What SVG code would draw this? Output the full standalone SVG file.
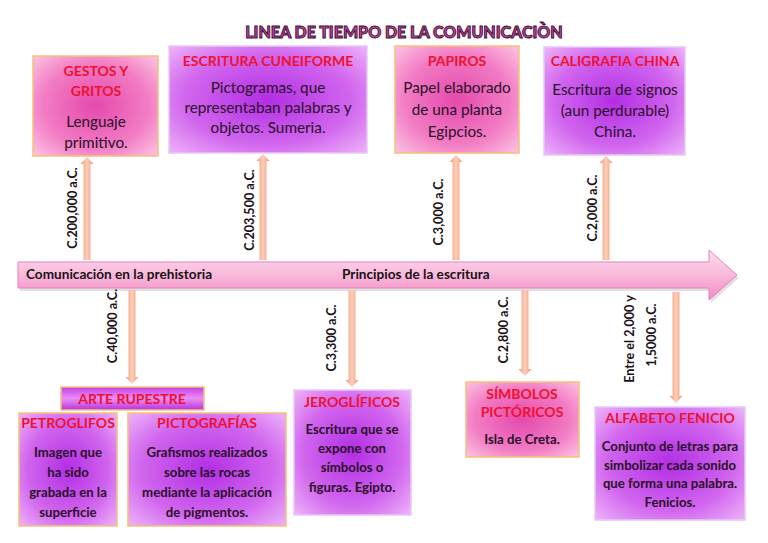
<svg xmlns="http://www.w3.org/2000/svg" width="768" height="543" viewBox="0 0 768 543">
<defs>
<radialGradient id="pink" cx="0.5" cy="0.5" r="0.7">
<stop offset="0" stop-color="#e44aac"/>
<stop offset="0.6" stop-color="#f27cc4"/>
<stop offset="1" stop-color="#fcc4e2"/>
</radialGradient>
<radialGradient id="purple" cx="0.5" cy="0.5" r="0.7">
<stop offset="0" stop-color="#b22ee4"/>
<stop offset="0.6" stop-color="#d166ee"/>
<stop offset="1" stop-color="#eeb2fa"/>
</radialGradient>
<linearGradient id="band" x1="0" y1="0" x2="0" y2="1">
<stop offset="0" stop-color="#c83ee4"/>
<stop offset="0.5" stop-color="#ea8ef6"/>
<stop offset="1" stop-color="#b832dc"/>
</linearGradient>
<linearGradient id="bar" x1="0" y1="0" x2="0" y2="1">
<stop offset="0" stop-color="#fde0ee"/>
<stop offset="0.5" stop-color="#f9b8da"/>
<stop offset="1" stop-color="#f08cc4"/>
</linearGradient>
<linearGradient id="arw" x1="0" y1="0" x2="1" y2="0">
<stop offset="0" stop-color="#f2926c"/>
<stop offset="0.5" stop-color="#fdd0bc"/>
<stop offset="1" stop-color="#f2926c"/>
</linearGradient>
</defs>
<style>
.pk{fill:url(#pink);stroke:#f6c078;stroke-width:1.5}
.pu{fill:url(#purple);stroke:#e6c8f6;stroke-width:1.5}
.puo{fill:url(#purple);stroke:#f6c078;stroke-width:1.5}
.h{font-family:Lato,"Open Sans",sans-serif;font-weight:bold;font-size:14px;fill:#f0102e;text-anchor:middle}
.b{font-family:Lato,"Open Sans",sans-serif;font-size:15.3px;fill:#2a1028;text-anchor:middle}
.bb{font-family:Lato,"Open Sans",sans-serif;font-weight:bold;font-size:13.2px;fill:#2a1028;text-anchor:middle}
.d{font-family:Lato,"Open Sans",sans-serif;font-weight:bold;font-size:12.6px;fill:#1a1018;text-anchor:middle}
.a{fill:url(#arw)}
.t{font-family:Lato,"Open Sans",sans-serif;font-weight:bold;font-size:13.6px;fill:#1a1018}
</style>
<rect width="768" height="543" fill="#ffffff"/>
<text x="404" y="38" font-family="Lato,'Open Sans',sans-serif" font-weight="900" font-size="16" fill="#c2449c" stroke="#3a0a30" stroke-width="0.9" text-anchor="middle">LINEA DE TIEMPO DE LA COMUNICACIÒN</text>

<g id="timeline">
<path d="M18,262 H709 V250 L737,275 L709,300 V288 H18 Z" fill="#000" opacity="0.12" transform="translate(2,3)"/>
<path d="M18,262 H709 V250 L737,275 L709,300 V288 H18 Z" fill="url(#bar)" stroke="#ea7cbc" stroke-width="1"/>
<text class="t" x="26" y="279">Comunicación en la prehistoria</text>
<text class="t" x="342" y="279">Principios de la escritura</text>
</g>

<g id="connectors">
<path class="a" d="M83.5,260 V164 H80.5 L87,157 L93.5,164 H90.5 V260 Z"/>
<path class="a" d="M259.5,260 V161 H256.5 L263,154 L269.5,161 H266.5 V260 Z"/>
<path class="a" d="M452.5,260 V162 H449.5 L456,155 L462.5,162 H459.5 V260 Z"/>
<path class="a" d="M602.5,260 V163 H599.5 L606,156 L612.5,163 H609.5 V260 Z"/>
<path class="a" d="M128.5,290 V377 H125.5 L132,384 L138.5,377 H135.5 V290 Z"/>
<path class="a" d="M348.5,290 V380 H345.5 L352,387 L358.5,380 H355.5 V290 Z"/>
<path class="a" d="M521.5,290 V369 H518.5 L525,376 L531.5,369 H528.5 V290 Z"/>
<path class="a" d="M672.5,292 V396 H669.5 L676,403 L682.5,396 H679.5 V292 Z"/>
<text class="d" transform="translate(77,208) rotate(-90)">C.200,000 a.C.</text>
<text class="d" transform="translate(254,210) rotate(-90)">C.203,500 a.C.</text>
<text class="d" transform="translate(443,212) rotate(-90)">C.3,000 a.C.</text>
<text class="d" transform="translate(597,208) rotate(-90)">C.2,000 a.C.</text>
<text class="d" transform="translate(117,326) rotate(-90)">C.40,000 a.C.</text>
<text class="d" transform="translate(336,338) rotate(-90)">C.3,300 a.C.</text>
<text class="d" transform="translate(508,330) rotate(-90)">C.2,800 a.C.</text>
<text class="d" transform="translate(634,339) rotate(-90)">Entre el 2,000 y</text>
<text class="d" transform="translate(656,335) rotate(-90)">1,5000 a.C.</text>
</g>

<g id="gestos">
<rect class="pk" x="33" y="56" width="125" height="100"/>
<text class="h" x="96" y="76">GESTOS Y</text>
<text class="h" x="96" y="96">GRITOS</text>
<text class="b" x="96" y="127">Lenguaje</text>
<text class="b" x="96" y="148">primitivo.</text>
</g>

<g id="cuneiforme">
<rect class="pu" x="169" y="46" width="198" height="107"/>
<text class="h" x="268" y="66">ESCRITURA CUNEIFORME</text>
<text class="b" x="268" y="93">Pictogramas, que</text>
<text class="b" x="268" y="113">representaban palabras y</text>
<text class="b" x="268" y="133">objetos. Sumeria.</text>
</g>

<g id="papiros">
<rect class="pk" x="395" y="46" width="124" height="107"/>
<text class="h" x="457" y="66">PAPIROS</text>
<text class="b" x="457" y="93">Papel elaborado</text>
<text class="b" x="457" y="115">de una planta</text>
<text class="b" x="457" y="137">Egipcios.</text>
</g>

<g id="caligrafia">
<rect class="pu" x="544" y="47" width="141" height="108"/>
<text class="h" x="615" y="66">CALIGRAFIA CHINA</text>
<text class="b" x="615" y="95">Escritura de signos</text>
<text class="b" x="615" y="116">(aun perdurable)</text>
<text class="b" x="615" y="137">China.</text>
</g>

<g id="arte">
<rect x="61" y="387" width="143" height="23" fill="url(#band)" stroke="#f6c078" stroke-width="1.5"/>
<text class="h" x="132" y="404">ARTE RUPESTRE</text>
</g>

<g id="petroglifos">
<rect class="puo" x="19" y="413" width="98" height="113"/>
<text class="h" x="68" y="428" font-size="12">PETROGLIFOS</text>
<text class="bb" x="68" y="457">Imagen que</text>
<text class="bb" x="68" y="477">ha sido</text>
<text class="bb" x="68" y="497">grabada en la</text>
<text class="bb" x="68" y="517">superficie</text>
</g>

<g id="pictografias">
<rect class="puo" x="128" y="413" width="158" height="113"/>
<text class="h" x="207" y="428" font-size="12.5">PICTOGRAFÍAS</text>
<text class="bb" x="207" y="457">Grafismos realizados</text>
<text class="bb" x="207" y="477">sobre las rocas</text>
<text class="bb" x="207" y="497">mediante la aplicación</text>
<text class="bb" x="207" y="517">de pigmentos.</text>
</g>

<g id="jeroglificos">
<rect class="pu" x="294" y="390" width="117" height="125"/>
<text class="h" x="352" y="407" font-size="12.5">JEROGLÍFICOS</text>
<text class="bb" x="352" y="434">Escritura que se</text>
<text class="bb" x="352" y="453">expone con</text>
<text class="bb" x="352" y="472">símbolos o</text>
<text class="bb" x="352" y="492">figuras. Egipto.</text>
</g>

<g id="simbolos">
<rect class="pk" x="466" y="382" width="113" height="75"/>
<text class="h" x="522" y="399" font-size="12.5">SÍMBOLOS</text>
<text class="h" x="522" y="417" font-size="12.5">PICTÓRICOS</text>
<text class="bb" x="522" y="444">Isla de Creta.</text>
</g>

<g id="alfabeto">
<rect class="pu" x="595" y="407" width="150" height="113"/>
<text class="h" x="670" y="423" font-size="12.5">ALFABETO FENICIO</text>
<text class="bb" x="670" y="451">Conjunto de letras para</text>
<text class="bb" x="670" y="470">simbolizar cada sonido</text>
<text class="bb" x="670" y="488">que forma una palabra.</text>
<text class="bb" x="670" y="507">Fenicios.</text>
</g>
</svg>
